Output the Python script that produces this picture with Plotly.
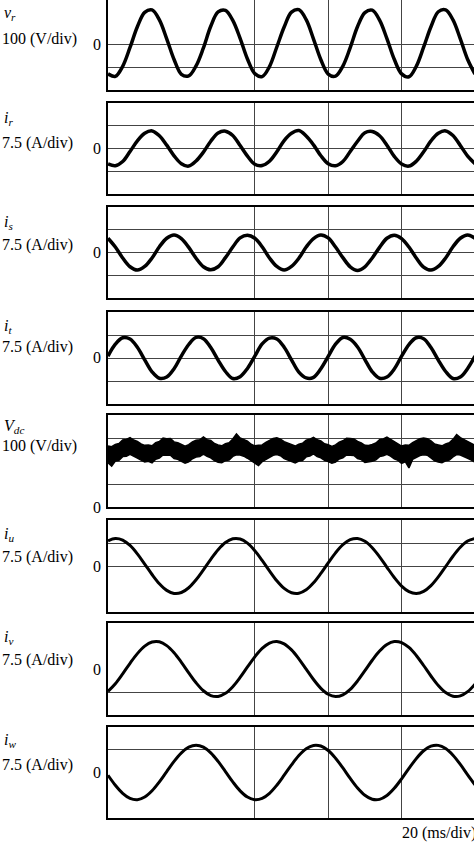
import plotly.graph_objects as go

# ---------------- data ----------------
t = list(range(0, 101, 2))        # ms
t_dc = list(range(0, 101))        # ms

v_r = [-129, -140, -96, -13, 78, 141, 152, 108, 25, -66,
       -131, -138, -94, -15, 80, 143, 150, 106, 27, -64,
       -128, -141, -97, -11, 77, 142, 153, 109, 24, -67,
       -130, -139, -95, -14, 79, 140, 151, 107, 26, -65,
       -129, -142, -96, -12, 78, 144, 152, 108, 25, -66,
       -130]

i_r = [-5.1, -5.7, -4.3, -1.0, 2.5, 5.0, 5.8, 4.2, 1.1, -2.4,
       -5.0, -5.8, -4.1, -1.2, 2.4, 5.1, 5.7, 4.3, 1.0, -2.5,
       -5.2, -5.6, -4.2, -1.1, 2.6, 5.0, 5.9, 4.1, 1.2, -2.4,
       -5.0, -5.7, -4.3, -1.0, 2.4, 5.2, 5.6, 4.2, 1.1, -2.6,
       -5.1, -5.8, -4.2, -1.1, 2.5, 5.0, 5.8, 4.3, 1.0, -2.5,
       -5.0]

i_s = [4.7, 1.8, -1.8, -4.7, -5.8, -4.6, -1.8, 1.9, 4.7, 5.8,
       4.6, 1.7, -1.9, -4.7, -5.7, -4.7, -1.7, 1.8, 4.8, 5.7,
       4.7, 1.9, -1.8, -4.6, -5.8, -4.6, -1.9, 1.8, 4.6, 5.8,
       4.8, 1.8, -1.7, -4.7, -5.9, -4.7, -1.8, 1.7, 4.7, 5.7,
       4.6, 1.8, -1.8, -4.8, -5.8, -4.6, -1.8, 1.9, 4.7, 5.8,
       4.7]

i_t = [0.6, 4.5, 6.6, 6.2, 3.5, -0.6, -4.5, -6.6, -6.2, -3.5,
       0.7, 4.4, 6.7, 6.3, 3.4, -0.7, -4.4, -6.7, -6.1, -3.4,
       0.6, 4.6, 6.5, 6.2, 3.5, -0.6, -4.6, -6.5, -6.3, -3.5,
       0.5, 4.5, 6.7, 6.1, 3.6, -0.5, -4.5, -6.6, -6.2, -3.6,
       0.6, 4.4, 6.6, 6.3, 3.4, -0.7, -4.4, -6.7, -6.2, -3.4,
       0.6]

vdc_upper = [265, 262, 272, 276, 292, 294, 302, 291, 285, 274,
             268, 270, 266, 280, 285, 300, 297, 298, 283, 280,
             272, 264, 271, 283, 290, 292, 305, 293, 289, 276,
             270, 266, 275, 279, 296, 318, 300, 294, 286, 273,
             266, 268, 270, 281, 289, 298, 301, 295, 284, 277,
             269, 265, 273, 277, 291, 295, 303, 292, 287, 275,
             271, 263, 270, 282, 288, 299, 298, 296, 285, 279,
             268, 267, 272, 278, 293, 296, 304, 294, 283, 276,
             265, 269, 268, 280, 290, 297, 300, 297, 288, 274,
             270, 266, 274, 279, 294, 315, 302, 293, 286, 277,
             268]

vdc_lower = [193, 178, 200, 203, 219, 221, 229, 222, 213, 204,
             196, 199, 192, 208, 213, 226, 224, 225, 211, 207,
             199, 191, 196, 210, 217, 219, 230, 220, 214, 202,
             195, 193, 202, 204, 220, 227, 226, 221, 212, 200,
             188, 180, 197, 207, 215, 225, 228, 223, 210, 205,
             197, 192, 200, 202, 218, 222, 231, 219, 214, 203,
             198, 190, 195, 209, 214, 226, 225, 224, 211, 206,
             194, 195, 199, 205, 219, 223, 229, 221, 209, 203,
             190, 197, 170, 207, 216, 224, 227, 225, 213, 201,
             196, 193, 201, 204, 218, 228, 226, 220, 212, 204,
             195]

i_u = [8.21, 8.99, 8.47, 6.70, 3.96, 0.64, -2.77, -5.79, -7.95, -8.95,
       -8.65, -7.09, -4.50, -1.24, 2.19, 5.30, 7.64, 8.87, 8.80, 7.44,
       5.00, 1.84, -1.59, -4.81, -7.31, -8.74, -8.91, -7.77, -5.49, -2.42,
       1.00, 4.28, 6.94, 8.58, 8.97, 8.05, 5.96, 3.00, -0.41, -3.75,
       -6.54, -8.38, -9.00, -8.30, -6.40, -3.56, -0.20, 3.18, 6.11, 8.14,
       8.99]

i_v = [-7.30, -4.80, -1.59, 1.86, 5.02, 7.45, 8.80, 8.86, 7.63, 5.29,
       2.18, -1.25, -4.50, -7.10, -8.66, -8.95, -7.94, -5.77, -2.75, 0.66,
       3.97, 6.71, 8.47, 8.99, 8.20, 6.22, 3.33, -0.05, -3.43, -6.30,
       -8.25, -9.00, -8.43, -6.63, -3.88, -0.55, 2.86, 5.84, 7.99, 8.96,
       8.62, 7.03, 4.42, 1.14, -2.28, -5.38, -7.69, -8.88, -8.78, -7.39,
       -4.93]

i_w = [-0.91, -4.20, -6.87, -8.55, -8.98, -8.10, -6.03, -3.08, 0.31, 3.66,
       6.47, 8.34, 9.00, 8.34, 6.46, 3.65, 0.30, -3.09, -6.05, -8.10,
       -8.98, -8.55, -6.87, -4.18, -0.89, 2.52, 5.58, 7.82, 8.92, 8.72,
       7.24, 4.71, 1.50, -1.95, -5.10, -7.50, -8.82, -8.85, -7.58, -5.21,
       -2.09, 1.35, 4.58, 7.16, 8.68, 8.94, 7.89, 5.70, 2.66, -0.75,
       -4.06]

symbols = ["<i>v</i><sub><i>r</i></sub>", "<i>i</i><sub><i>r</i></sub>",
           "<i>i</i><sub><i>s</i></sub>", "<i>i</i><sub><i>t</i></sub>",
           "<i>V</i><sub><i>dc</i></sub>", "<i>i</i><sub><i>u</i></sub>",
           "<i>i</i><sub><i>v</i></sub>", "<i>i</i><sub><i>w</i></sub>"]
units = ["100 (V/div)", "7.5 (A/div)", "7.5 (A/div)", "7.5 (A/div)",
         "100 (V/div)", "7.5 (A/div)", "7.5 (A/div)", "7.5 (A/div)"]
per_div = [100, 7.5, 7.5, 7.5, 100, 7.5, 7.5, 7.5]
zero_at_bottom = [False, False, False, False, True, False, False, False]
y_grid = [[0, -100], [7.5, 0, -7.5], [7.5, 0, -7.5], [7.5, 0, -7.5],
          [100, 200, 300], [7.5, 0], [-7.5], [7.5]]
x_grid = [40, 60, 80]
time_label = "20 (ms/div)"

# ---------------- layout geometry (pixels) ----------------
W, H = 474, 843
L = 108
PW = W - L
px_per_ms = 3.67
tops = [-1, 103, 207, 312, 415, 520, 623, 727]
bottoms = [90, 194, 298, 404, 507, 612, 715, 818]
sym_y = [14, 118, 222, 326, 426, 534, 637, 740]
unit_y = [39, 143, 245, 347, 446, 557, 660, 765]

FONT = "Liberation Serif"
FS = 16

fig = go.Figure()
series = [v_r, i_r, i_s, i_t, None, i_u, i_v, i_w]
layout = dict(width=W, height=H, margin=dict(l=L, r=0, t=0, b=0),
              paper_bgcolor="white", plot_bgcolor="white",
              showlegend=False, font=dict(family=FONT, size=FS, color="black"))
annotations = []

for k in range(8):
    xa = "x" if k == 0 else f"x{k+1}"
    ya = "y" if k == 0 else f"y{k+1}"
    top, bot = tops[k], bottoms[k]
    divpx = (bot - top) / 4.0
    u = per_div[k]
    if zero_at_bottom[k]:
        def val(p, top=top, divpx=divpx, u=u):
            return 4 * u - (p - top) / divpx * u
    else:
        def val(p, top=top, divpx=divpx, u=u):
            return 2 * u - (p - top) / divpx * u
    vis_top = max(top, 0)
    yr = [val(bot), val(vis_top)]
    dom = [1 - bot / H, 1 - vis_top / H]

    layout["xaxis" if k == 0 else f"xaxis{k+1}"] = dict(
        domain=[0, 1], range=[0, PW / px_per_ms], anchor=ya,
        showline=True, linecolor="black", linewidth=2,
        mirror=(k != 0), ticks="", showticklabels=False,
        tickvals=x_grid, showgrid=True, gridcolor="#444", gridwidth=1,
        zeroline=False, fixedrange=True)
    layout["yaxis" if k == 0 else f"yaxis{k+1}"] = dict(
        domain=dom, range=yr, anchor=xa,
        showline=True, linecolor="black", linewidth=2, mirror=False,
        ticks="", showticklabels=False,
        tickvals=y_grid[k], showgrid=True, gridcolor="#444", gridwidth=1,
        zeroline=False, fixedrange=True)

    if series[k] is not None:
        width = 3.5 if k in (0, 1, 2, 3) else 3
        fig.add_trace(go.Scatter(x=t, y=series[k], xaxis=xa, yaxis=ya,
                                 mode="lines", line=dict(color="black", width=width,
                                                         shape="spline", smoothing=1.0),
                                 hoverinfo="skip"))
    else:
        fig.add_trace(go.Scatter(x=t_dc, y=vdc_lower, xaxis=xa, yaxis=ya,
                                 mode="lines", line=dict(color="black", width=1.5),
                                 hoverinfo="skip"))
        fig.add_trace(go.Scatter(x=t_dc, y=vdc_upper, xaxis=xa, yaxis=ya,
                                 mode="lines", fill="tonexty", fillcolor="black",
                                 line=dict(color="black", width=1.5),
                                 hoverinfo="skip"))

    annotations.append(dict(text=symbols[k], xref="paper", yref="paper",
                            x=(2 - L) / PW, y=1 - sym_y[k] / H,
                            xanchor="left", yanchor="middle", showarrow=False,
                            font=dict(family=FONT, size=FS, color="black")))
    annotations.append(dict(text=units[k], xref="paper", yref="paper",
                            x=(0 - L) / PW, y=1 - unit_y[k] / H,
                            xanchor="left", yanchor="middle", showarrow=False,
                            font=dict(family=FONT, size=FS, color="black")))
    annotations.append(dict(text="0", xref="paper", yref=ya, x=(103 - L) / PW, y=0,
                            xanchor="right", yanchor="middle", showarrow=False,
                            font=dict(family=FONT, size=FS, color="black")))

annotations.append(dict(text=time_label, xref="paper", yref="paper",
                        x=(400 - L) / PW, y=1 - 833 / H, xanchor="left", yanchor="middle",
                        showarrow=False, font=dict(family=FONT, size=FS, color="black")))

layout["annotations"] = annotations
fig.update_layout(**layout)
fig.write_html("out.html", config={"displayModeBar": False},
               post_script="document.body.style.margin='0';document.body.style.overflow='hidden';")
